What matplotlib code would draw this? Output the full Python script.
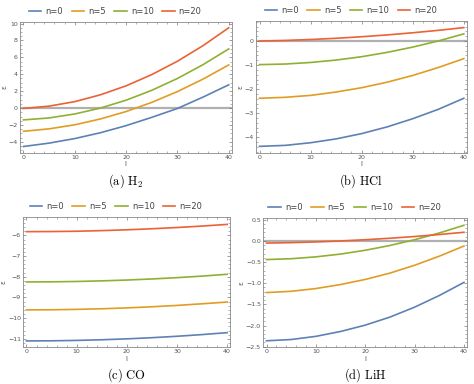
import matplotlib
matplotlib.use('Agg')
import matplotlib.pyplot as plt
from matplotlib.ticker import MultipleLocator, AutoMinorLocator

plt.rcParams['mathtext.fontset'] = 'cm'

# Valores (l = 0, 5, ..., 40)
l = [0, 5, 10, 15, 20, 25, 30, 35, 40]
etiquetas = ['n=0', 'n=5', 'n=10', 'n=20']
colores = ['#5E81B5', '#E19C24', '#8FB032', '#EB6235']

h2_n0 = [-4.55, -4.15, -3.61, -2.92, -2.08, -1.10, -0.05, 1.30, 2.75]
h2_n5 = [-2.75, -2.46, -1.98, -1.29, -0.41, 0.67, 1.95, 3.43, 5.10]
h2_n10 = [-1.40, -1.17, -0.70, 0.00, 0.93, 2.10, 3.50, 5.14, 7.00]
h2_n20 = [-0.05, 0.23, 0.76, 1.57, 2.63, 3.96, 5.54, 7.39, 9.50]

hcl_n0 = [-4.38, -4.34, -4.23, -4.07, -3.85, -3.57, -3.23, -2.84, -2.38]
hcl_n5 = [-2.38, -2.34, -2.26, -2.12, -1.94, -1.71, -1.43, -1.10, -0.73]
hcl_n10 = [-0.98, -0.956, -0.89, -0.79, -0.65, -0.47, -0.25, 0.004, 0.30]
hcl_n20 = [0.00, 0.026, 0.065, 0.116, 0.18, 0.256, 0.345, 0.446, 0.56]

co_n0 = [-11.10, -11.094, -11.075, -11.044, -11.00, -10.944, -10.875, -10.794, -10.70]
co_n5 = [-9.60, -9.594, -9.576, -9.546, -9.504, -9.45, -9.384, -9.306, -9.22]
co_n10 = [-8.25, -8.244, -8.227, -8.198, -8.158, -8.106, -8.043, -7.968, -7.88]
co_n20 = [-5.82, -5.815, -5.80, -5.77, -5.73, -5.68, -5.62, -5.55, -5.47]

lih_n0 = [-2.36, -2.33, -2.255, -2.14, -1.99, -1.80, -1.565, -1.29, -0.98]
lih_n5 = [-1.22, -1.19, -1.125, -1.03, -0.91, -0.76, -0.575, -0.36, -0.12]
lih_n10 = [-0.44, -0.42, -0.376, -0.31, -0.22, -0.107, 0.029, 0.188, 0.37]
lih_n20 = [-0.05, -0.04, -0.023, 0.00, 0.029, 0.064, 0.105, 0.152, 0.205]

paneles = [
    (r'$\mathrm{(a)\ H_2}$', [h2_n0, h2_n5, h2_n10, h2_n20], (-5.3, 10.2), 2, 4, True,
     [0.042, 0.602, 0.447, 0.341]),
    (r'$\mathrm{(b)\ HCl}$', [hcl_n0, hcl_n5, hcl_n10, hcl_n20], (-4.65, 0.83), 1, 5, True,
     [0.540, 0.602, 0.445, 0.343]),
    (r'$\mathrm{(c)\ CO}$', [co_n0, co_n5, co_n10, co_n20], (-11.4, -5.11), 1, 5, False,
     [0.0485, 0.096, 0.437, 0.339]),
    (r'$\mathrm{(d)\ LiH}$', [lih_n0, lih_n5, lih_n10, lih_n20], (-2.51, 0.54), 0.5, 5, True,
     [0.555, 0.096, 0.430, 0.336]),
]

fig = plt.figure(figsize=(4.74, 3.84), dpi=100)

for titulo, series, ylim, paso, sub, linea_cero, pos in paneles:
    ax = fig.add_axes(pos)
    if linea_cero:
        ax.axhline(0, color='#b0b0b0', lw=1.6, zorder=1)
    for datos, color, etiqueta in zip(series, colores, etiquetas):
        ax.plot(l, datos, color=color, lw=1.2, label=etiqueta, zorder=2)
    ax.set_xlim(-0.7, 40.6)
    ax.set_ylim(*ylim)
    ax.xaxis.set_major_locator(MultipleLocator(10))
    ax.xaxis.set_minor_locator(AutoMinorLocator(5))
    ax.yaxis.set_major_locator(MultipleLocator(paso))
    ax.yaxis.set_minor_locator(AutoMinorLocator(sub))
    ax.tick_params(which='both', direction='in', top=True, right=True,
                   labelsize=4.5, labelcolor='#555555', color='#777777', pad=1.5)
    ax.tick_params(which='major', length=2.5, width=0.5)
    ax.tick_params(which='minor', length=1.3, width=0.4)
    for s in ax.spines.values():
        s.set_color('#888888')
        s.set_linewidth(0.6)
    ax.set_xlabel('l', fontsize=5, color='#555555', labelpad=1)
    ax.set_ylabel('ε', fontsize=5, color='#555555', labelpad=1)
    ax.legend(loc='lower center', bbox_to_anchor=(0.45, 1.0), ncol=4,
              frameon=False, fontsize=6, handlelength=1.5, handletextpad=0.5,
              columnspacing=1.0, borderaxespad=0.3, labelcolor='#444444')
    ax.text(0.5, -0.215, titulo, transform=ax.transAxes, ha='center', va='center',
            fontsize=9)

fig.savefig('out.png', dpi=100)
